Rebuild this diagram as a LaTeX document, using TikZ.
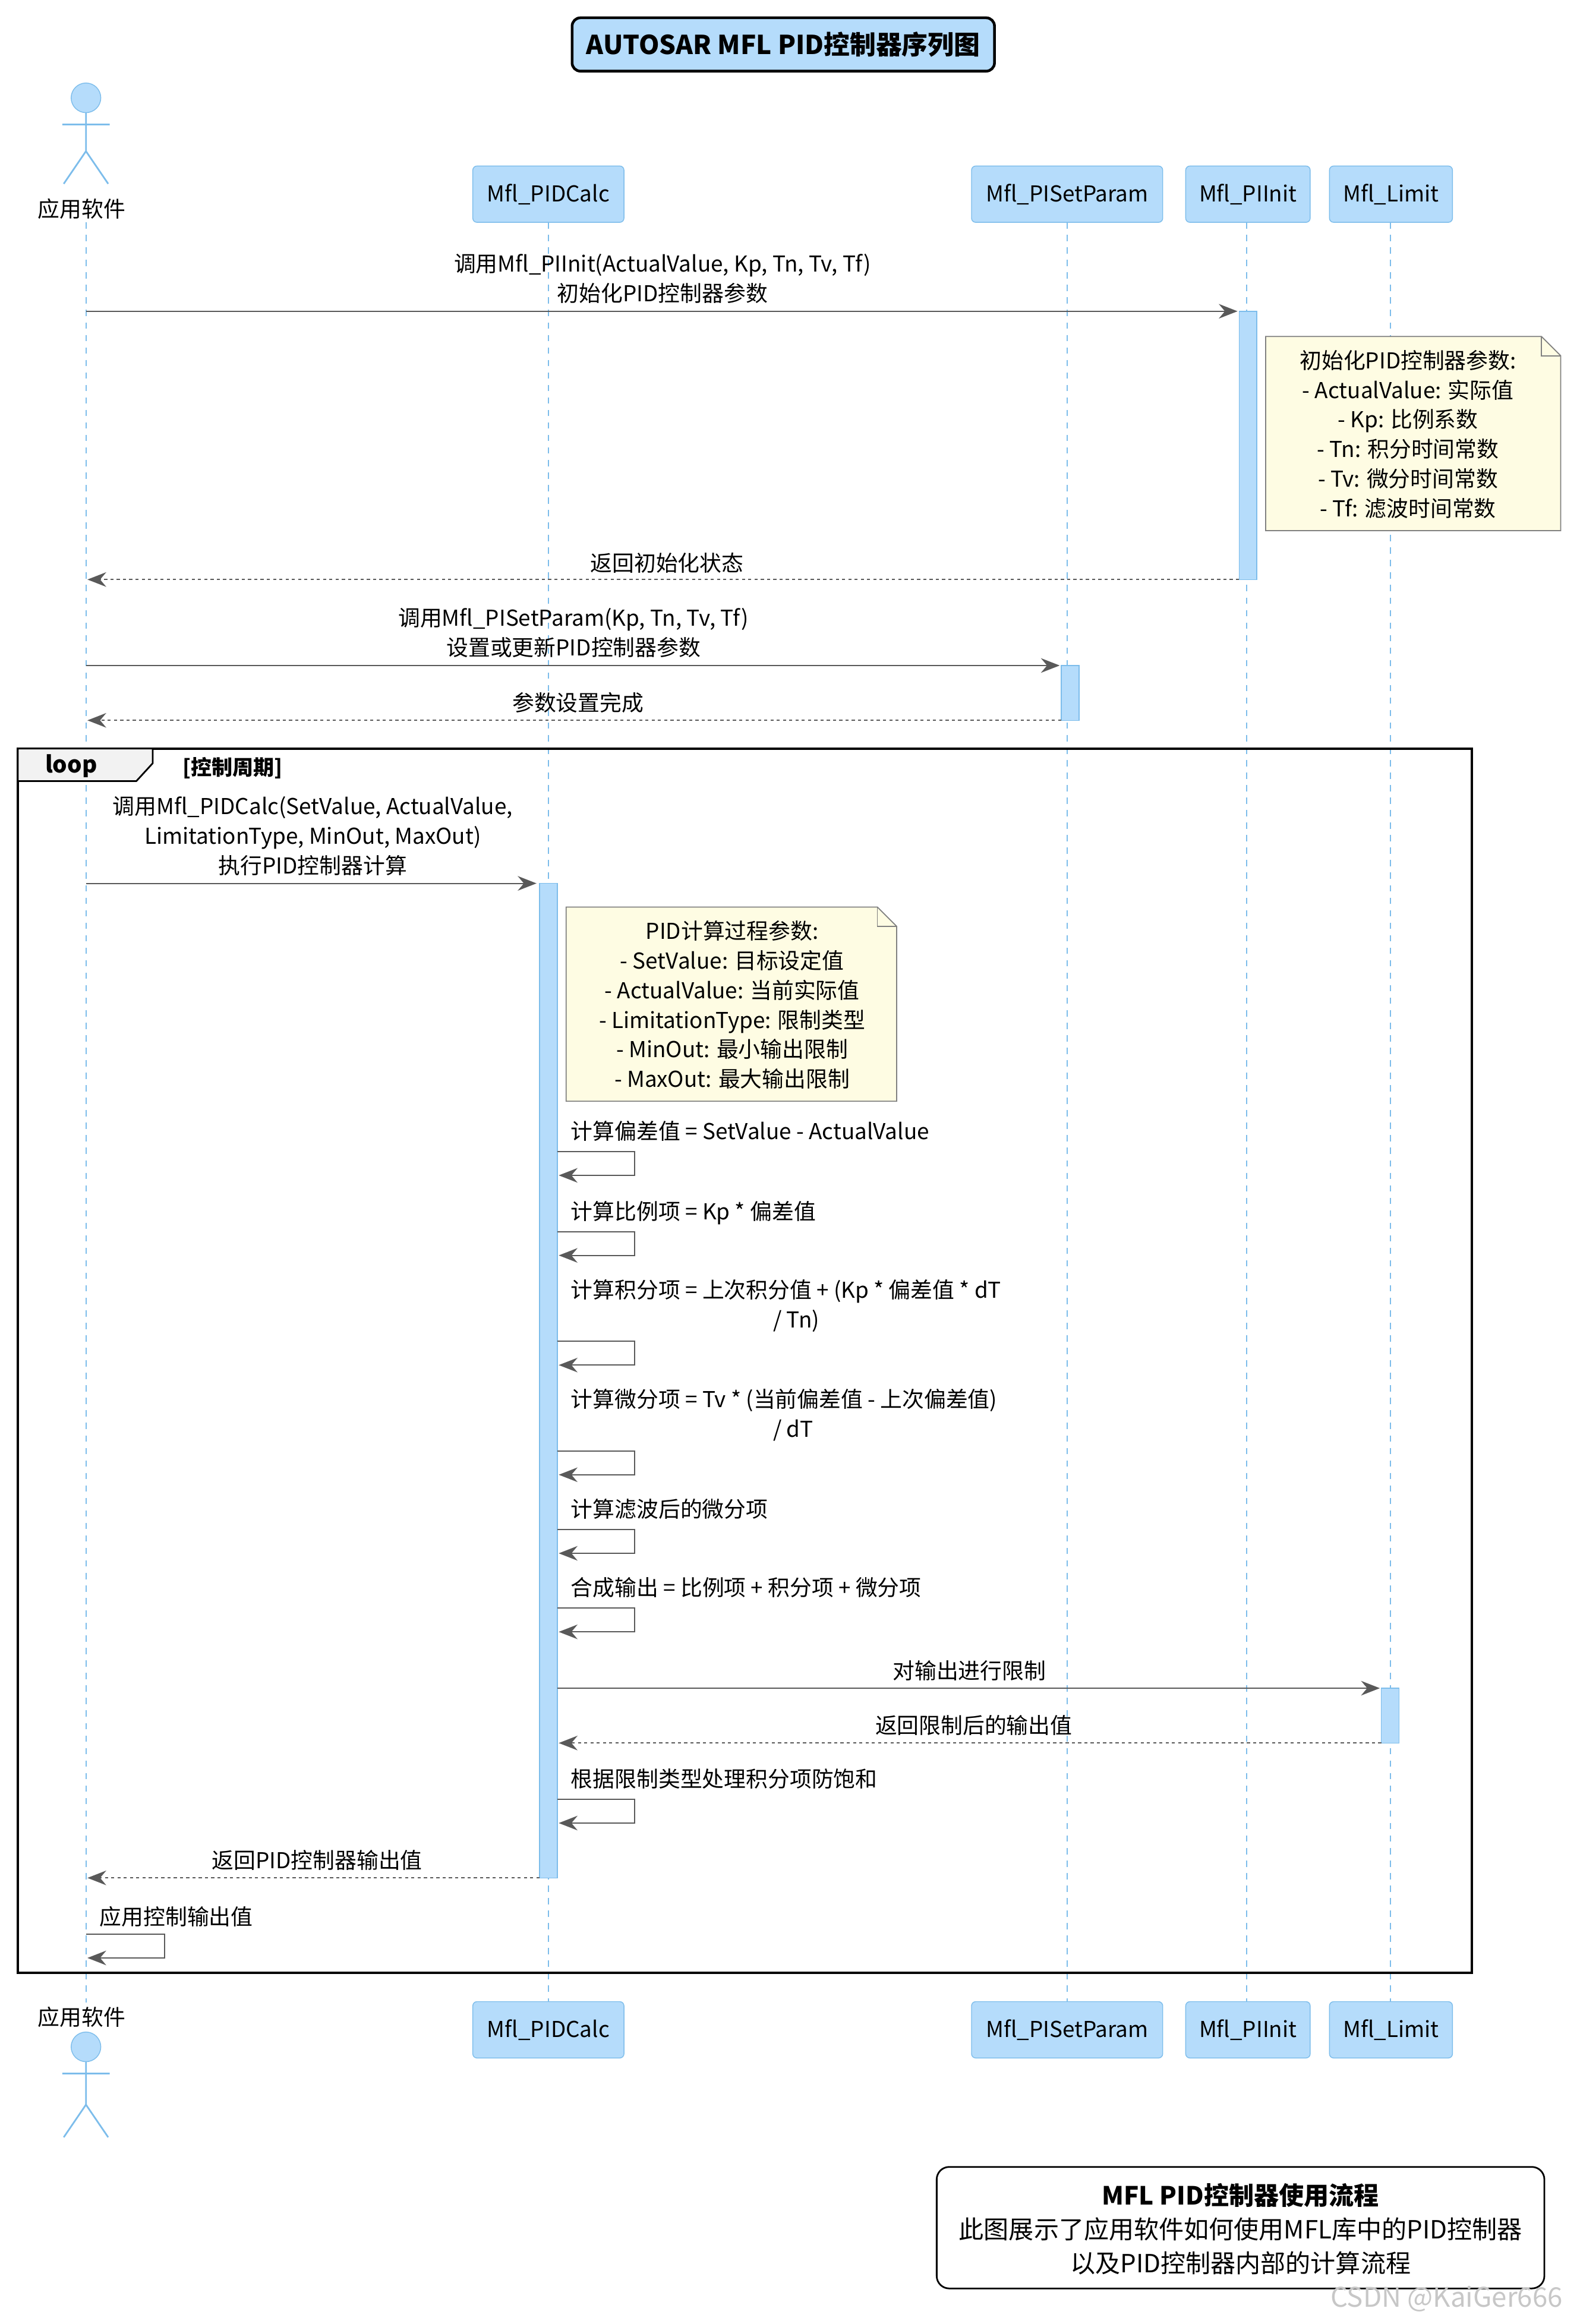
\documentclass[tikz,border=0pt]{standalone}
\usepackage{fontspec}
\setmainfont{Noto Sans CJK SC}
\usetikzlibrary{arrows.meta}
\definecolor{pbox}{HTML}{B5DCFB}
\definecolor{pline}{HTML}{7DBDEB}
\definecolor{nfill}{HTML}{FEFCE3}
\begin{document}
\begin{tikzpicture}[x=0.025cm,y=-0.025cm,
  every node/.style={font=\fontsize{10.5}{14.2}\selectfont,inner sep=0pt},
  part/.style={draw=pline,fill=pbox,rounded corners=2pt},
  life/.style={draw=pline,dashed,line width=0.5pt},
  act/.style={draw=pline,fill=pbox},
  msg/.style={draw=black!65,line width=0.6pt,-{Stealth[length=9pt,width=7pt]}},
  ret/.style={draw=black!65,line width=0.6pt,dash pattern=on 1.5pt off 1.5pt,-{Stealth[length=9pt,width=7pt]}},
  lbl/.style={align=center},
  notebox/.style={draw=black!50,fill=nfill,line width=0.5pt}]
\useasboundingbox (0,0) rectangle (1066,1568);
% title
\node[draw=black,line width=1.3pt,fill=pbox,rounded corners=4pt,minimum width=285*0.025cm,minimum height=36*0.025cm,font=\fontsize{12.5}{15}\selectfont\bfseries] (title) at (528.5,30) {AUTOSAR MFL PID控制器序列图};
% lifelines
\foreach \n/\x in {a/58,c/370,s/720,i/841,l/938}{\draw[life] (\x,150) coordinate (\n top) -- (\x,1351) coordinate (\n bot);}
% participants
\foreach \n/\x/\w/\t in {c/370/102/Mfl\_PIDCalc, s/720/129/Mfl\_PISetParam, i/842/84/Mfl\_PIInit, l/938.5/83/Mfl\_Limit}{
  \node[part,minimum width=\w*0.025cm,minimum height=38*0.025cm] (\n T) at (\x,131) {\t};
  \node[part,minimum width=\w*0.025cm,minimum height=38*0.025cm] (\n B) at (\x,1369.5) {\t};}
% actors
\draw[pline,fill=pbox] (58,66) circle (10);
\draw[pline,line width=0.8pt] (58,76)--(58,102) (42,84)--(74,84) (58,102)--(43,124) (58,102)--(73,124);
\node (aT) at (55,141) {应用软件};
\node (aB) at (55,1361) {应用软件};
\draw[pline,fill=pbox] (58,1381) circle (10);
\draw[pline,line width=0.8pt] (58,1391)--(58,1420) (42,1399)--(74,1399) (58,1420)--(43,1442) (58,1420)--(73,1442);
% activations
\draw[act] (836,210) rectangle (848,391);
\draw[act] (716,449) rectangle (728,486);
\draw[act] (364,596) rectangle (376,1267);
\draw[act] (932,1139) rectangle (944,1176);
% msg 1
\node[lbl] (m1) at (447,188) {调用Mfl\_PIInit(ActualValue, Kp, Tn, Tv, Tf)\\初始化PID控制器参数};
\draw[msg] (58,210) -- (835,210);
\draw[notebox] (854,227) -- (1040,227) -- (1053,240) -- (1053,358) -- (854,358) -- cycle;
\draw[black!50,line width=0.5pt] (1040,227) -- (1040,240) -- (1053,240);
\node[lbl] (n1) at (950,293) {初始化PID控制器参数:\\- ActualValue: 实际值\\- Kp: 比例系数\\- Tn: 积分时间常数\\- Tv: 微分时间常数\\- Tf: 滤波时间常数};
\node (m2) at (450,380) {返回初始化状态};
\draw[ret] (836,391) -- (59,391);
\node[lbl] (m3) at (387,427) {调用Mfl\_PISetParam(Kp, Tn, Tv, Tf)\\设置或更新PID控制器参数};
\draw[msg] (58,449) -- (715,449);
\node (m4) at (390,474) {参数设置完成};
\draw[ret] (716,486) -- (59,486);
% loop frame
\draw[line width=1.2pt] (12,505) rectangle (993,1331);
\draw[line width=0.8pt,fill=black!5] (12,505) -- (103,505) -- (103,515) -- (92,527) -- (12,527) -- cycle;
\node[font=\fontsize{11}{13}\selectfont\bfseries] (lp) at (48,517) {loop};
\node[font=\fontsize{10}{13}\selectfont\bfseries] (lg) at (157,518) {[控制周期]};
\node[lbl] (m5) at (211,564) {调用Mfl\_PIDCalc(SetValue, ActualValue,\\LimitationType, MinOut, MaxOut)\\执行PID控制器计算};
\draw[msg] (58,596) -- (362,596);
\draw[notebox] (382,612) -- (592,612) -- (605,625) -- (605,743) -- (382,743) -- cycle;
\draw[black!50,line width=0.5pt] (592,612) -- (592,625) -- (605,625);
\node[lbl] (n2) at (494,678) {PID计算过程参数:\\- SetValue: 目标设定值\\- ActualValue: 当前实际值\\- LimitationType: 限制类型\\- MinOut: 最小输出限制\\- MaxOut: 最大输出限制};
% self messages
\foreach \k/\ty/\ay/\t in {
 s1/765/777/{计算偏差值 = SetValue - ActualValue},
 s2/819/831/{计算比例项 = Kp * 偏差值},
 s3/872/905/{计算积分项 = 上次积分值 + (Kp * 偏差值 * dT\\\hspace*{97pt}/ Tn)},
 s4/946/979/{计算微分项 = Tv * (当前偏差值 - 上次偏差值)\\\hspace*{97pt}/ dT},
 s5/1020/1032/{计算滤波后的微分项},
 s6/1073/1085/{合成输出 = 比例项 + 积分项 + 微分项},
 s7/1202/1214/{根据限制类型处理积分项防饱和}}{
  \node[anchor=north west,align=left] (\k) at (385,\ty-9) {\t};
  \draw[msg] (376,\ay) -- (428,\ay) -- (428,\ay+16) -- (377,\ay+16);}
\node (m6) at (654,1127) {对输出进行限制};
\draw[msg] (376,1139) -- (931,1139);
\node (m7) at (657,1164) {返回限制后的输出值};
\draw[ret] (932,1176) -- (377,1176);
\node (m8) at (214,1255) {返回PID控制器输出值};
\draw[ret] (364,1267) -- (59,1267);
\node[anchor=west] (m9) at (67,1293) {应用控制输出值};
\draw[msg] (58,1305) -- (111,1305) -- (111,1321) -- (59,1321);
% bottom note
\node[draw=black,line width=0.8pt,rounded corners=6pt,minimum width=410*0.025cm,minimum height=82*0.025cm] (legend) at (837,1503) {};
\node[lbl,font=\fontsize{12}{16.3}\selectfont] (lt) at (837,1504) {\textbf{MFL PID控制器使用流程}\\此图展示了应用软件如何使用MFL库中的PID控制器\\以及PID控制器内部的计算流程};
\node[text=black!22,font=\fontsize{13}{15}\selectfont] (wm) at (976,1551) {CSDN @KaiGer666};
\end{tikzpicture}
\end{document}
